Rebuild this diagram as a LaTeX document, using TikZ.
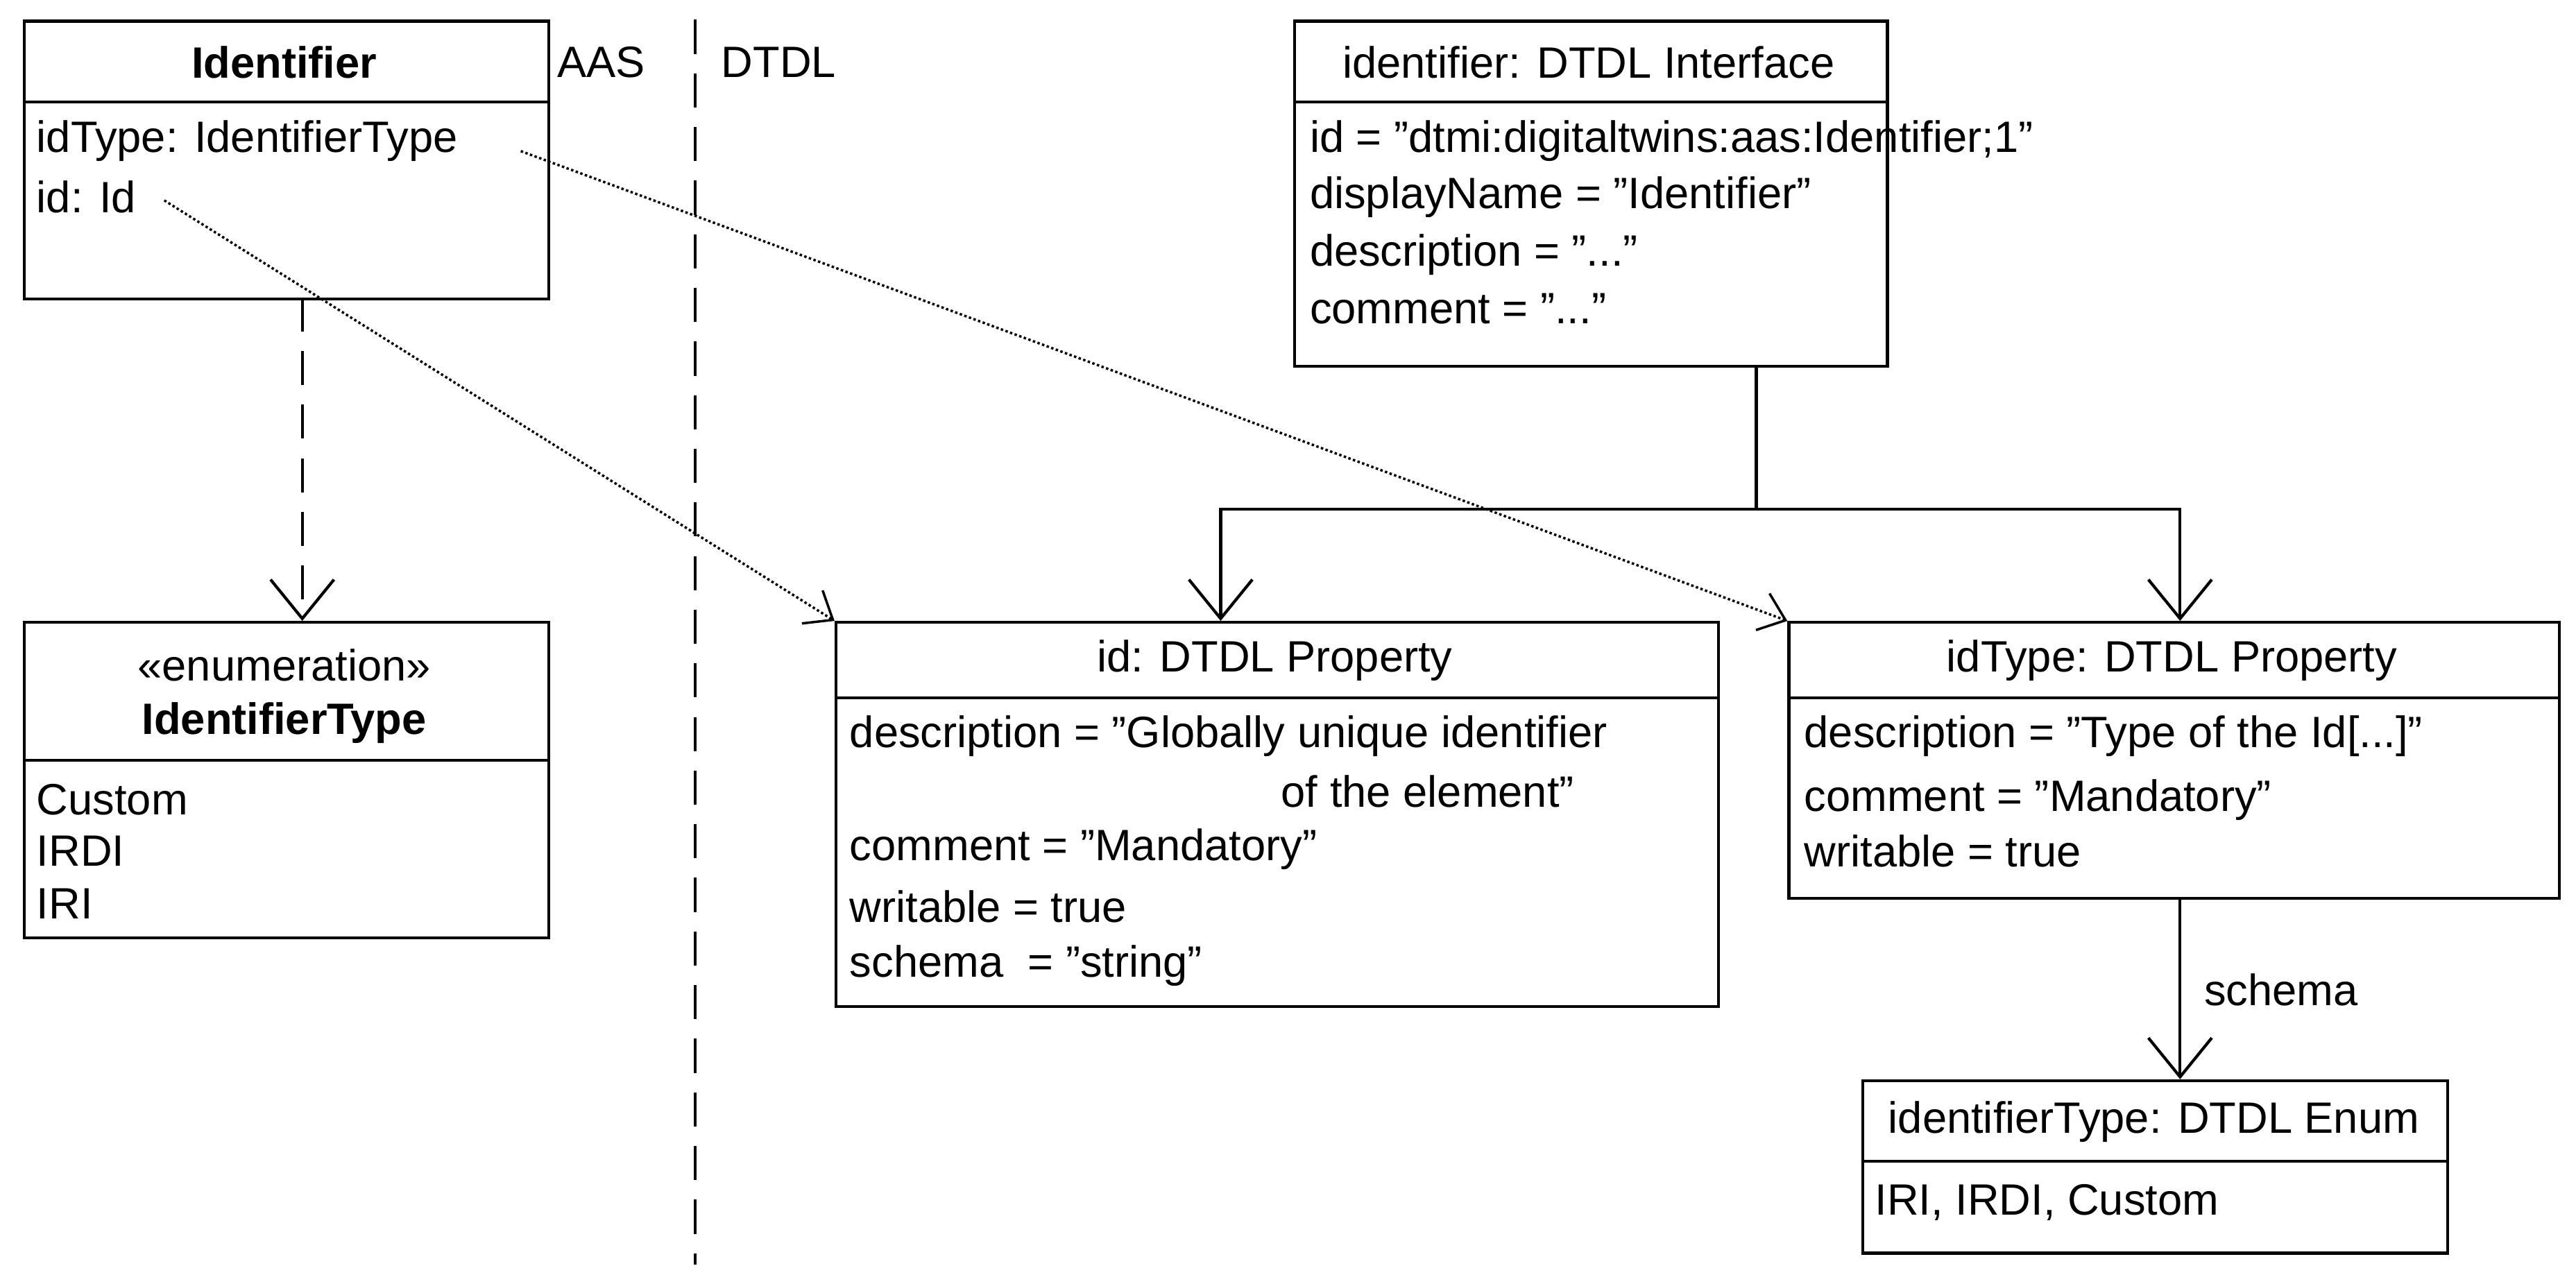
\documentclass[tikz,border=0pt]{standalone}
\usepackage{fontspec}
\setmainfont{Liberation Sans}[Ligatures=ResetAll]
\usetikzlibrary{arrows.meta,positioning}
\newcommand{\qt}{\symbol{34}}
\tikzset{
  box/.style={draw, line width=1.2pt, anchor=north west, inner sep=0pt},
  txt/.style={anchor=west, inner sep=0pt},
  ttl/.style={inner sep=0pt},
  sep/.style={line width=1.2pt},
  assoc/.style={line width=1.2pt, -{Straight Barb[length=16pt,width=26pt]}},
  trace/.style={densely dotted, line width=1pt, -{Straight Barb[length=10pt,width=16pt]}}
}
\begin{document}
\begin{tikzpicture}[x=0.02368cm, y=-0.02368cm, font=\fontsize{18}{28}\selectfont]
  \useasboundingbox (0,0) rectangle (1568,776);
  % AAS side
  \node[box, minimum width=319*0.02368cm, minimum height=169*0.02368cm] (ident) at (14,12) {};
  \draw[sep] (14,62) -- (333,62);
  \node[ttl] (identT) at (173,38) {\textbf{Identifier}};
  \node[txt] (aIdType) at (22,86) {idType: IdentifierType};
  \node[txt] (aId) at (22,120) {id: Id};
  \node[box, minimum width=319*0.02368cm, minimum height=192*0.02368cm] (itype) at (14,378) {};
  \draw[sep] (14,463) -- (333,463);
  \node[ttl] at (173,405) {«enumeration»};
  \node[ttl] at (173,440) {\textbf{IdentifierType}};
  \node[txt] at (22,487) {Custom};
  \node[txt] at (22,518) {IRDI};
  \node[txt] at (22,550) {IRI};
  \coordinate (dep) at (184,181);
  \coordinate (depE) at (184,378);
  \draw[assoc, dashed, dash pattern=on 14pt off 8pt] (dep) -- (depE);
  % separator
  \node[ttl] (aas) at (366,38) {AAS};
  \node[ttl] (dtdl) at (474,38) {DTDL};
  \coordinate (sTop) at (423,12);
  \coordinate (sBot) at (423,770);
  \draw[line width=1.2pt, dash pattern=on 14pt off 8pt] (sTop) -- (sBot);
  % DTDL side
  \node[box, minimum width=361*0.02368cm, minimum height=210*0.02368cm] (iface) at (787,12) {};
  \draw[sep] (787,62) -- (1148,62);
  \node[ttl] at (967,38) {identifier: DTDL Interface};
  \node[txt] at (797,86) {id = \qt dtmi:digitaltwins:aas:Identifier;1\qt};
  \node[txt] at (797,120) {displayName = \qt Identifier\qt};
  \node[txt] at (797,155) {description = \qt...\qt};
  \node[txt] at (797,188) {comment = \qt...\qt};
  \node[box, minimum width=537*0.02368cm, minimum height=234*0.02368cm] (pId) at (508,378) {};
  \draw[sep] (508,425) -- (1045,425);
  \node[ttl] at (776,402) {id: DTDL Property};
  \node[txt] at (517,448) {description = \qt Globally unique identifier};
  \node[ttl] at (869,482) {of the element\qt};
  \node[txt] at (517,517) {comment = \qt Mandatory\qt};
  \node[txt] at (517,552) {writable = true};
  \node[txt] at (517,588) {schema~ = \qt string\qt};
  \node[box, minimum width=469*0.02368cm, minimum height=168*0.02368cm] (pType) at (1088,378) {};
  \draw[sep] (1088,425) -- (1557,425);
  \node[ttl] at (1322,402) {idType: DTDL Property};
  \node[txt] at (1098,448) {description = \qt Type of the Id[...]\qt};
  \node[txt] at (1098,487) {comment = \qt Mandatory\qt};
  \node[txt] at (1098,518) {writable = true};
  \node[box, minimum width=356*0.02368cm, minimum height=105*0.02368cm] (enum) at (1133,657) {};
  \draw[sep] (1133,707) -- (1489,707);
  \node[ttl] at (1311,683) {identifierType: DTDL Enum};
  \node[txt] at (1141,732) {IRI, IRDI, Custom};
  % connectors
  \coordinate (fork) at (1069,310);
  \draw[sep] (iface.south -| fork) -- (fork);
  \draw[assoc] (fork) -| (pId.north -| 743,0);
  \draw[assoc] (fork) -| (pType.north -| 1327,0);
  \draw[assoc] (pType.south -| 1327,0) -- node[right=6pt] {schema} (enum.north -| 1327,0);
  \draw[trace] (317,92) -- (pType.north west);
  \draw[trace] (100,122) -- (pId.north west);
\end{tikzpicture}
\end{document}
